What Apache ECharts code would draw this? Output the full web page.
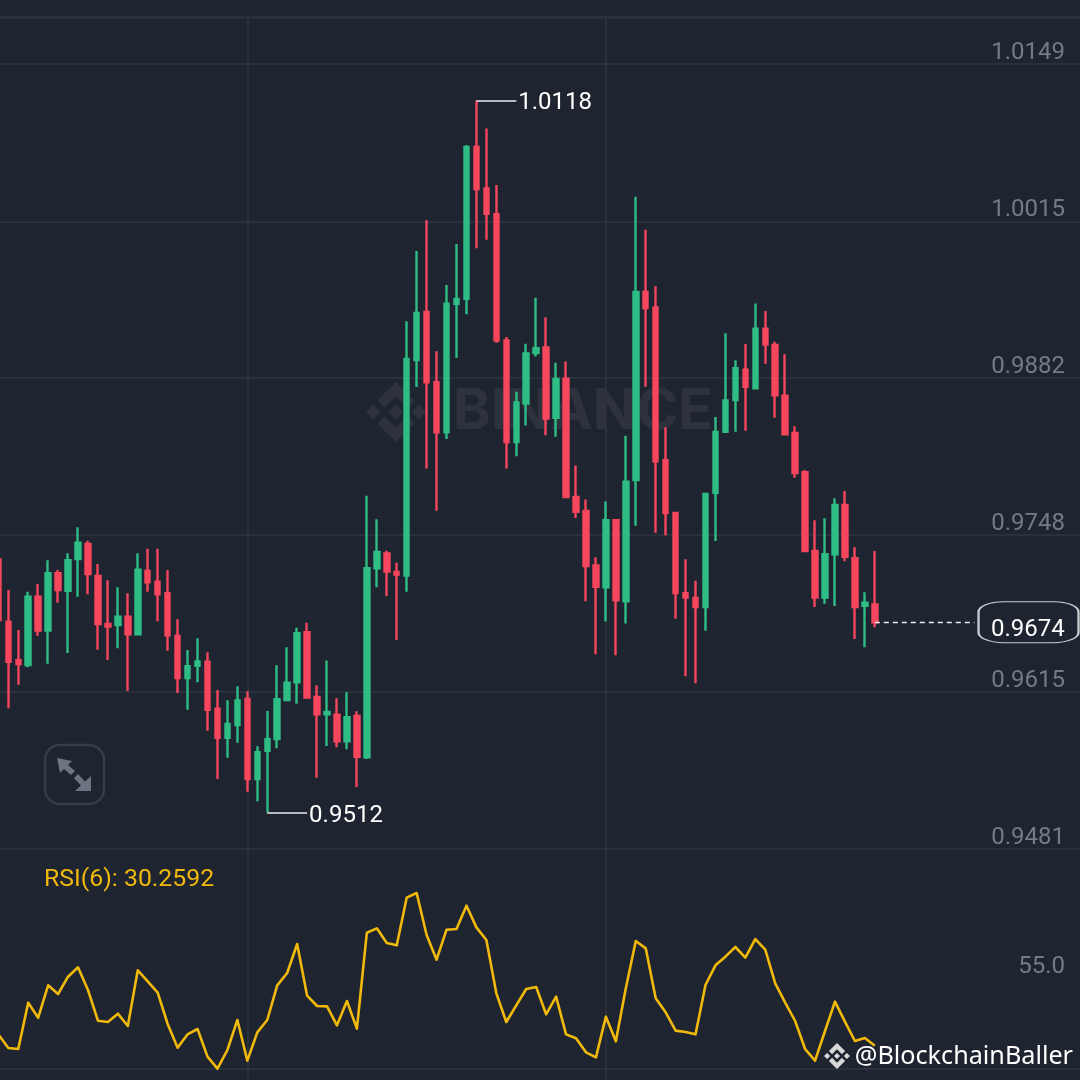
<!DOCTYPE html>
<html>
<head>
<meta charset="utf-8">
<style>html,body{margin:0;padding:0;background:#1f2530}#chart{width:1080px;height:1080px}</style>
<script src="https://cdn.jsdelivr.net/npm/echarts@6/dist/echarts.min.js"></script>
</head>
<body>
<div id="chart"></div>
<script>
// candles
var opens = [.97275,.96744,.96416,.96376,.96957,.96668,.97156,.97008,.97278,.97406,.97133,.96725,.96716,.96787,.96637,.97176,.97085,.96986,.96623,.96265,.96370,.96404,.96004,.95757,.95865,.96087,.95406,.95646,.95746,.96078,.96229,.96654,.96104,.95956,.95953,.95727,.95942,.95590,.97199,.97324,.97167,.97138,.98971,.99380,.98782,.98357,.99450,.99491,1.00784,1.00432,1.00211,.99137,.98272,.98600,.99031,.99078,.98480,.98813,.97806,.97686,.97223,.97038,.97607,.96918,.97950,.99550,.99419,.98118,.97669,.96986,.96946,.96869,.97842,.98361,.98631,.98889,.98731,.99238,.99099,.98668,.98350,.98016,.97346,.96949,.97318,.97737,.97284,.96880,.96892];
var closes = [.96759,.96404,.96384,.96957,.96668,.97156,.97014,.97267,.97417,.97150,.96725,.96702,.96787,.96637,.97187,.97080,.96978,.96629,.96265,.96365,.96407,.95995,.95757,.95874,.96075,.95406,.95633,.95744,.96084,.96225,.96646,.96098,.95956,.95976,.95727,.95931,.95595,.97199,.97337,.97170,.97145,.98980,.99371,.98782,.98357,.99450,.99491,1.00784,1.00426,1.00215,.99137,.98272,.98609,.99028,.99072,.98474,.98811,.97806,.97680,.97218,.97041,.97607,.96927,.97936,.99550,.99414,.98110,.97669,.96989,.96949,.96869,.97831,.98359,.98628,.98901,.98744,.99238,.99102,.98671,.98339,.98010,.97346,.96949,.97318,.97737,.97297,.96869,.96906,.96740];
var lows = [.96742,.96007,.96208,.96356,.96625,.96387,.96906,.96478,.96957,.96978,.96506,.96418,.96518,.96155,.96637,.97000,.96748,.96498,.96138,.95995,.96229,.95817,.95406,.95587,.95715,.95298,.95216,.95120,.95667,.96067,.96047,.96098,.95417,.95687,.95675,.95658,.95338,.95576,.97037,.96963,.96589,.97000,.98742,.98048,.97689,.98300,.98989,.99361,.99922,.99994,.99119,.98048,.98152,.98414,.99002,.98331,.98319,.97800,.97627,.96918,.96468,.96745,.96458,.96729,.97561,.98743,.97501,.97480,.96770,.96280,.96220,.96668,.97431,.98361,.98361,.98370,.98731,.98940,.98480,.98339,.97970,.97340,.96869,.96898,.96878,.97258,.96597,.96526,.96697];
var highs = [.97295,.97014,.96674,.97000,.97065,.97267,.97184,.97326,.97548,.97434,.97235,.97097,.97037,.96986,.97326,.97366,.97366,.97184,.96765,.96503,.96603,.96484,.96163,.96075,.96195,.96152,.95684,.95984,.96373,.96526,.96693,.96736,.96203,.96413,.96092,.96144,.95982,.97817,.97616,.97349,.97246,.99302,.99899,1.00161,.99046,.99610,.99959,1.00800,1.01180,1.00941,1.00461,.99166,.98700,.99109,.99500,.99336,.98948,.98958,.98074,.97784,.97292,.97768,.97607,.98326,1.00360,1.00080,.99599,.98399,.97669,.97275,.97093,.97837,.98486,.99199,.98969,.99108,.99451,.99388,.99127,.99020,.98407,.98035,.97607,.97624,.97794,.97857,.97377,.96995,.97346];
var rsiValues = [33.74,29.55,29.25,43.45,38.85,48.77,46.11,51.42,54.29,47.34,37.93,37.52,40.08,36.30,53.37,50.00,46.52,36.91,29.66,33.74,35.38,26.90,23.22,28.94,38.14,25.67,34.36,38.14,48.77,52.55,61.44,45.60,42.43,42.33,36.50,43.96,35.48,64.91,66.24,61.75,61.03,75.65,77.08,64.20,56.64,65.83,66.04,73.19,66.55,62.67,46.31,37.52,42.63,47.64,48.26,39.88,45.29,33.74,32.52,28.23,26.69,39.16,31.60,47.85,62.36,60.11,44.78,40.49,34.87,34.46,33.74,48.87,54.90,57.56,60.52,57.25,62.97,59.70,49.38,43.45,37.83,29.25,25.67,34.77,43.76,37.63,31.70,32.62,30.26];
var priceTicks = [.9481,.9615,.9748,.9882,1.0015,1.0149];
var rsiTicks = [55];
var rsiGridValues = [23.27];
var priceMin = .9481, priceMax = 1.0189;
var rsiMin = 19.74, rsiMax = 90.57;
var highLabel = 1.0118, lowLabel = 0.9512, lastPrice = 0.9674;
var highIndex = 48, lowIndex = 27, lastIndex = 88;
var rsiTitle = 'RSI(6): 30.2592';

var BG = '#1f2530', GRID = '#2f3540', UP = '#2ebd85', DOWN = '#f6465d', GOLD = '#f0b90b';
var LABEL = '#747b86', WHITE = '#eaecef';
var NUM_FONT = 'Roboto';

// empty slots on the right side of the last candle
var slots = [];
for (var i = 0; i < 110; i++) slots.push('k' + i);
var verticalLines = [25, 61];

var candles = [];
for (var i = 0; i < opens.length; i++) {
  candles.push([opens[i], closes[i], lows[i], highs[i]]);
}

function logoPolys(cx, cy, r, color, z) {
  var shapes = [
    [[0, -.24], [.24, 0], [0, .24], [-.24, 0]],
    [[-.76, -.24], [-.52, 0], [-.76, .24], [-1, 0]],
    [[.76, -.24], [1, 0], [.76, .24], [.52, 0]],
    [[0, -1], [.62, -.38], [.38, -.14], [0, -.52], [-.38, -.14], [-.62, -.38]],
    [[0, 1], [-.62, .38], [-.38, .14], [0, .52], [.38, .14], [.62, .38]]
  ];
  return shapes.map(function (s) {
    return {
      type: 'polygon', z: z, silent: true,
      shape: { points: s.map(function (p) { return [cx + p[0] * r, cy + p[1] * r]; }) },
      style: { fill: color }
    };
  });
}

var elements = [
  { type: 'rect', z: 1, shape: { x: 0, y: 16, width: 1080, height: 3 }, style: { fill: '#2a303a' } },
  // expand button
  { type: 'rect', z: 5, shape: { x: 45, y: 745, width: 59, height: 59, r: 15 }, style: { fill: BG, stroke: '#363c48', lineWidth: 2.5 } },
  { type: 'polygon', z: 6, shape: { points: [[57, 758], [72, 761], [68, 765], [75, 771], [71, 775], [64, 769], [60, 773]] }, style: { fill: '#6d7380' } },
  { type: 'polygon', z: 6, shape: { points: [[91, 791], [75, 791], [81, 785.5], [74, 778], [78, 774], [85, 781.5], [91, 776]] }, style: { fill: '#6d7380' } },
  // watermark
  { type: 'text', z: -1, silent: true, style: { x: 453, y: 412, text: 'BINANCE', fill: '#2d323d', font: 'bold 57px Inter', verticalAlign: 'middle' } },
  // footer
  { type: 'text', z: 20, style: { x: 1073, y: 1057, text: '@BlockchainBaller', fill: '#ffffff', font: '25.2px "Noto Sans"', align: 'right', verticalAlign: 'middle' } },
  { type: 'text', z: 20, style: { x: 44, y: 880, text: rsiTitle, fill: GOLD, font: '24.8px ' + NUM_FONT, verticalAlign: 'middle' } }
].concat(logoPolys(396, 412, 30, '#2d323d', -1), logoPolys(837, 1056, 13, '#d8d8d8', 20));

var chart = echarts.init(document.getElementById('chart'), null, { renderer: 'canvas' });
chart.setOption({
  animation: false,
  backgroundColor: BG,
  grid: [
    { left: -1.66, width: 1085.64, top: 17, height: 832, outerBoundsMode: 'none' },
    { left: -1.66, width: 1085.64, top: 849, height: 231, outerBoundsMode: 'none' }
  ],
  xAxis: [0, 1].map(function (g) {
    return {
      type: 'category', gridIndex: g, data: slots, boundaryGap: false,
      axisLine: { show: false }, axisTick: { show: false }, axisLabel: { show: false },
      splitLine: {
        show: true,
        interval: function (idx) { return verticalLines.indexOf(idx) >= 0; },
        lineStyle: { color: GRID, width: 1.5 }
      }
    };
  }),
  yAxis: [
    {
      gridIndex: 0, type: 'value', position: 'right', min: priceMin, max: priceMax, scale: true,
      axisLine: { show: false },
      axisTick: { show: false, customValues: priceTicks },
      axisLabel: {
        inside: true, customValues: priceTicks, margin: 19, color: LABEL, fontFamily: NUM_FONT, fontSize: 24,
        verticalAlign: 'bottom', lineHeight: 22, showMinLabel: true, showMaxLabel: true,
        formatter: function (v) { return v.toFixed(4); }
      },
      splitLine: { show: true, lineStyle: { color: GRID, width: 1.5 } }
    },
    {
      gridIndex: 1, type: 'value', position: 'right', min: rsiMin, max: rsiMax, scale: true,
      axisLine: { show: false },
      axisTick: { show: false, customValues: rsiGridValues },
      axisLabel: {
        inside: true, customValues: rsiTicks, margin: 19, color: LABEL, fontFamily: NUM_FONT, fontSize: 24,
        verticalAlign: 'top', lineHeight: 4,
        formatter: function (v) { return v.toFixed(1); }
      },
      splitLine: { show: true, lineStyle: { color: GRID, width: 1.5 } }
    }
  ],
  series: [
    {
      type: 'candlestick', xAxisIndex: 0, yAxisIndex: 0, data: candles, barWidth: 5, clip: false, z: 3,
      itemStyle: { color: UP, color0: DOWN, borderColor: UP, borderColor0: DOWN, borderWidth: 2.4 },
      markLine: {
        silent: true, symbol: 'none', animation: false,
        lineStyle: { color: WHITE, type: 'solid', width: 1.5 },
        label: { show: true, position: 'end', color: '#ffffff', fontFamily: NUM_FONT, fontSize: 24, distance: 2, verticalAlign: 'top', lineHeight: 6 },
        data: [
          [{ coord: [highIndex, highLabel], label: { formatter: String(highLabel) } }, { coord: [highIndex + 4, highLabel] }],
          [{ coord: [lowIndex, lowLabel], label: { formatter: String(lowLabel) } }, { coord: [lowIndex + 4, lowLabel] }],
          [{ coord: [lastIndex, lastPrice], label: { show: false }, lineStyle: { type: [5, 4], width: 1.3 } }, { coord: [lastIndex + 10, lastPrice] }]
        ]
      },
      markPoint: {
        silent: true, animation: false,
        data: [{
          coord: [103, lastPrice], symbol: 'roundRect', symbolSize: [100, 41], symbolOffset: [4.3, 0],
          itemStyle: { color: BG, borderColor: '#c8cbd0', borderWidth: 1.5 },
          label: { show: true, position: 'inside', offset: [-0.7, 8], formatter: lastPrice.toFixed(4), color: '#ffffff', fontFamily: NUM_FONT, fontSize: 24 }
        }]
      }
    },
    {
      type: 'line', xAxisIndex: 1, yAxisIndex: 1, data: rsiValues, showSymbol: false, symbol: 'none', z: 3,
      lineStyle: { color: GOLD, width: 2.6, join: 'round' }
    }
  ],
  graphic: { elements: elements }
});
</script>
</body>
</html>
